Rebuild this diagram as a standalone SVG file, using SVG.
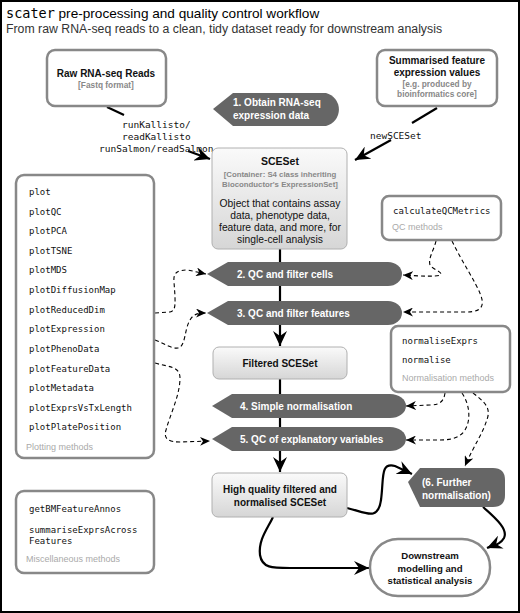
<svg xmlns="http://www.w3.org/2000/svg" width="520" height="613" viewBox="0 0 520 613">
<defs>
<linearGradient id="g" x1="0" y1="0" x2="0" y2="1"><stop offset="0" stop-color="#fafafa"/><stop offset="1" stop-color="#d6d6d6"/></linearGradient>
<marker id="ah" markerUnits="userSpaceOnUse" markerWidth="16" markerHeight="14" refX="15" refY="7" orient="auto"><path d="M0,0 L15,7 L0,14 L5,7 z" fill="#000"/></marker>
<marker id="ad" markerUnits="userSpaceOnUse" markerWidth="11" markerHeight="9" refX="10" refY="4.5" orient="auto"><path d="M0,0 L10,4.5 L0,9 L3,4.5 z" fill="#000"/></marker>
</defs>
<style>
.sans{font-family:"Liberation Sans",Arial,sans-serif}
.mono{font-family:"DejaVu Sans Mono","Liberation Mono",monospace;font-size:9px;fill:#111}
.b{font-weight:bold}
.box{fill:#fff;stroke:#888;stroke-width:2.5}
.sbox{fill:url(#g);stroke:#b0b0b0;stroke-width:1}
.proc{fill:#666}
.pt{font-family:"Liberation Sans",Arial,sans-serif;font-weight:bold;font-size:10px;fill:#fff}
.gt{font-family:"Liberation Sans",Arial,sans-serif;font-weight:bold;font-size:8.3px;fill:#888}
.cap{font-family:"Liberation Sans",Arial,sans-serif;font-size:9px;fill:#aaa}
.bt{font-family:"Liberation Sans",Arial,sans-serif;font-weight:bold;font-size:10px;fill:#111}
.nt{font-family:"Liberation Sans",Arial,sans-serif;font-size:10.3px;fill:#111}
.solid{fill:none;stroke:#000;stroke-width:2.2}
.dash{fill:none;stroke:#000;stroke-width:1.1;stroke-dasharray:4,3}
</style>
<rect x="1" y="1" width="518" height="611" fill="#fff" stroke="#000" stroke-width="2"/>
<g id="title">
<text x="6" y="18" style="font-size:13.6px"><tspan font-family="DejaVu Sans Mono, monospace" font-size="13.5">scater</tspan><tspan class="sans"> pre-processing and quality control workflow</tspan></text>
<text x="6" y="33" class="sans" style="font-size:12.3px;fill:#333">From raw RNA-seq reads to a clean, tidy dataset ready for downstream analysis</text>
</g>
<g id="connectors">
<line x1="280" y1="249" x2="280" y2="262" class="solid"/>
<line x1="280" y1="286" x2="280" y2="301" class="solid"/>
<line x1="280" y1="325" x2="280" y2="346" class="solid" marker-end="url(#ah)"/>
<line x1="280" y1="379" x2="280" y2="394" class="solid"/>
<line x1="280" y1="417" x2="280" y2="427" class="solid"/>
<line x1="280" y1="450" x2="280" y2="472" class="solid" marker-end="url(#ah)"/>
<line x1="107" y1="107" x2="124" y2="115" class="solid"/>
<line x1="188" y1="151" x2="210" y2="159" class="solid" marker-end="url(#ah)"/>
<line x1="437" y1="108" x2="412" y2="123" class="solid"/>
<line x1="391" y1="140" x2="355" y2="160" class="solid" marker-end="url(#ah)"/>
<path d="M347,508 C365,512 378,522 381,500 C384,478 380,462 395,466 L412,474" class="solid" marker-end="url(#ah)"/>
<path d="M483,507 C498,520 508,530 504,538 C500,545 494,545 487,548" class="solid" marker-end="url(#ah)"/>
<path d="M273,517 C268,528 258,540 260,555 C262,568 272,568 290,568 L369,568" class="solid" marker-end="url(#ah)"/>
<path d="M436,241 C434,250 428,258 430,265 C433,270 444,272 440,275 C436,277 420,276 403,275" class="dash" marker-end="url(#ad)"/>
<path d="M452,241 C462,262 476,282 481,296 C486,310 476,312 465,312 L403,312" class="dash" marker-end="url(#ad)"/>
<path d="M155,313 L170,312 C176,311 175,303 175,296 L174,282 C173,272 178,270 188,270 L206,274" class="dash" marker-end="url(#ad)"/>
<path d="M155,340 C165,344 172,349 178,348 C186,346 184,330 190,320 C193,315 196,313 206,313" class="dash" marker-end="url(#ad)"/>
<path d="M155,363 C168,367 180,366 180,378 C180,395 170,415 166,430 C163,440 170,442 180,442 L210,441" class="dash" marker-end="url(#ad)"/>
<path d="M445,393 C444,400 441,405 430,405 L406,406" class="dash" marker-end="url(#ad)"/>
<path d="M462,393 C470,405 471,420 465,430 C460,438 450,440 440,440 L406,440" class="dash" marker-end="url(#ad)"/>
<path d="M473,393 C482,400 490,406 488,416 C484,432 474,445 465,466" class="dash" marker-end="url(#ad)"/>
</g>
<g id="raw">
<rect x="47" y="50" width="119" height="56" rx="8" class="box"/>
<text x="106" y="77" text-anchor="middle" class="bt">Raw RNA-seq Reads</text>
<text x="106" y="88" text-anchor="middle" class="gt">[Fastq format]</text>
</g>
<g id="summarised">
<rect x="377" y="50" width="120" height="56" rx="8" class="box"/>
<text x="437" y="64" text-anchor="middle" class="bt">Summarised feature</text>
<text x="437" y="76" text-anchor="middle" class="bt">expression values</text>
<text x="437" y="87" text-anchor="middle" class="gt">[e.g. produced by</text>
<text x="437" y="97" text-anchor="middle" class="gt">bioinformatics core]</text>
</g>
<g id="labels">
<text x="122" y="128" class="mono" style="font-size:9.5px">runKallisto/</text>
<text x="122" y="140" class="mono" style="font-size:9.5px">readKallisto</text>
<text x="99" y="152" class="mono" style="font-size:9.5px">runSalmon/readSalmon</text>
<text x="370" y="139" class="mono" style="font-size:9.5px">newSCESet</text>
</g>
<g id="step1">
<path d="M213,109 L233,93 L326,93 A17,17 0 0 1 326,126 L233,126 Z" class="proc"/>
<text x="233" y="106" class="pt">1. Obtain RNA-seq</text>
<text x="233" y="119" class="pt">expression data</text>
</g>
<g id="sceset">
<rect x="212" y="148" width="135" height="101" rx="6" class="sbox"/>
<text x="280" y="165" text-anchor="middle" class="bt" style="font-size:10.5px">SCESet</text>
<text x="280" y="177" text-anchor="middle" class="gt" style="font-size:7.8px">[Container: S4 class inheriting</text>
<text x="280" y="187" text-anchor="middle" class="gt" style="font-size:7.8px">Bioconductor's ExpressionSet]</text>
<text x="280" y="207" text-anchor="middle" class="nt">Object that contains assay</text>
<text x="280" y="219" text-anchor="middle" class="nt">data, phenotype data,</text>
<text x="280" y="231" text-anchor="middle" class="nt">feature data, and more, for</text>
<text x="280" y="243" text-anchor="middle" class="nt">single-cell analysis</text>
</g>
<g id="step2">
<path d="M207,274 L228,262 L388,262 A14,12 0 0 1 388,286 L228,286 Z" class="proc"/>
<text x="237" y="278" class="pt">2. QC and filter cells</text>
</g>
<g id="step3">
<path d="M207,313 L228,301 L388,301 A14,12 0 0 1 388,325 L228,325 Z" class="proc"/>
<text x="237" y="317" class="pt">3. QC and filter features</text>
</g>
<g id="filtered">
<rect x="213" y="347" width="134" height="32" rx="6" class="sbox"/>
<text x="280" y="367" text-anchor="middle" class="bt">Filtered SCESet</text>
</g>
<g id="step4">
<path d="M212,406 L232,394 L390,394 A16,12 0 0 1 390,418 L232,418 Z" class="proc"/>
<text x="240" y="410" class="pt">4. Simple normalisation</text>
</g>
<g id="step5">
<path d="M212,439 L232,427 L390,427 A16,12 0 0 1 390,451 L232,451 Z" class="proc"/>
<text x="240" y="443" class="pt">5. QC of explanatory variables</text>
</g>
<g id="hq">
<rect x="212" y="473" width="135" height="44" rx="6" class="sbox"/>
<text x="280" y="493" text-anchor="middle" class="bt">High quality filtered and</text>
<text x="280" y="506" text-anchor="middle" class="bt">normalised SCESet</text>
</g>
<g id="step6">
<path d="M408,482 L420,468 L493,468 Q505,468 505,480 L505,495 Q505,507 493,507 L420,507 Z" class="proc"/>
<text x="422" y="486" class="pt">(6. Further</text>
<text x="422" y="499" class="pt">normalisation)</text>
</g>
<g id="downstream">
<rect x="370" y="539" width="120" height="57" rx="28" class="box"/>
<text x="430" y="559" text-anchor="middle" class="bt" style="font-size:9.6px">Downstream</text>
<text x="430" y="572" text-anchor="middle" class="bt" style="font-size:9.6px">modelling and</text>
<text x="430" y="584" text-anchor="middle" class="bt" style="font-size:9.6px">statistical analysis</text>
</g>
<g id="plotting">
<rect x="16" y="175" width="138" height="283" rx="8" class="box"/>
<text x="29" y="195" class="mono">plot</text>
<text x="29" y="215" class="mono">plotQC</text>
<text x="29" y="234" class="mono">plotPCA</text>
<text x="29" y="254" class="mono">plotTSNE</text>
<text x="29" y="273" class="mono">plotMDS</text>
<text x="29" y="293" class="mono">plotDiffusionMap</text>
<text x="29" y="313" class="mono">plotReducedDim</text>
<text x="29" y="332" class="mono">plotExpression</text>
<text x="29" y="352" class="mono">plotPhenoData</text>
<text x="29" y="372" class="mono">plotFeatureData</text>
<text x="29" y="391" class="mono">plotMetadata</text>
<text x="29" y="411" class="mono">plotExprsVsTxLength</text>
<text x="29" y="430" class="mono">plotPlatePosition</text>
<text x="26" y="450" class="cap">Plotting methods</text>
</g>
<g id="misc">
<rect x="16" y="491" width="138" height="82" rx="8" class="box"/>
<text x="29" y="512" class="mono">getBMFeatureAnnos</text>
<text x="29" y="533" class="mono">summariseExprsAcross</text>
<text x="29" y="544" class="mono">Features</text>
<text x="26" y="562" class="cap">Miscellaneous methods</text>
</g>
<g id="qc">
<rect x="382" y="196" width="119" height="44" rx="7" class="box"/>
<text x="393" y="214" class="mono">calculateQCMetrics</text>
<text x="392" y="230" class="cap">QC methods</text>
</g>
<g id="norm">
<rect x="391" y="326" width="119" height="66" rx="7" class="box"/>
<text x="402" y="344" class="mono">normaliseExprs</text>
<text x="402" y="363" class="mono">normalise</text>
<text x="402" y="381" class="cap">Normalisation methods</text>
</g>
</svg>
